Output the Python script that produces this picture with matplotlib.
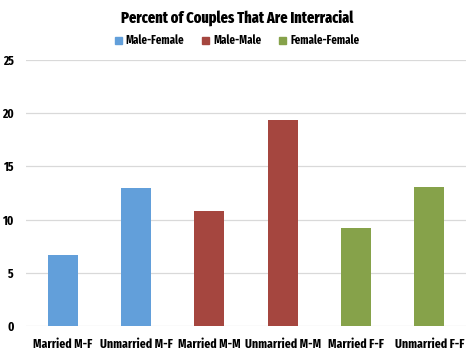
import matplotlib.pyplot as plt
import matplotlib.patches as mpatches

### data ###
categories = ['Married M-F', 'Unmarried M-F', 'Married M-M', 'Unmarried M-M', 'Married F-F', 'Unmarried F-F']
values = [6.7, 13.0, 10.8, 19.4, 9.2, 13.1]
groups = ['Male-Female', 'Male-Female', 'Male-Male', 'Male-Male', 'Female-Female', 'Female-Female']
group_names = ['Male-Female', 'Male-Male', 'Female-Female']
group_colors = {'Male-Female': '#629fda', 'Male-Male': '#a5463f', 'Female-Female': '#86a24a'}

plt.rcParams['font.family'] = ['Fira Sans Extra Condensed', 'Roboto Condensed', 'DejaVu Sans']
plt.rcParams['font.weight'] = 'bold'

fig = plt.figure(figsize=(4.74, 3.52), dpi=100)
ax = fig.add_axes([0.055, 0.074, 0.928, 0.755])

colors = [group_colors[g] for g in groups]
ax.bar(range(len(categories)), values, width=0.41, color=colors, zorder=3)

ax.set_ylim(0, 25)
ax.set_xlim(-0.5, len(categories) - 0.5)
ax.set_yticks([0, 5, 10, 15, 20, 25])
ax.set_xticks(range(len(categories)))
ax.set_xticklabels(categories, fontsize=9.2, fontweight='bold')
ax.tick_params(axis='y', labelsize=9, length=0, pad=9)
ax.tick_params(axis='x', length=0, pad=9)
ax.grid(axis='y', color='#d9d9d9', linewidth=0.9, zorder=0)
for s in ax.spines.values():
    s.set_visible(False)

fig.text(0.5, 0.95, 'Percent of Couples That Are Interracial', ha='center', va='center',
         fontsize=11.2, fontweight='heavy')

handles = [mpatches.Patch(color=group_colors[g], label=g) for g in group_names]
fig.legend(handles=handles, loc='center', bbox_to_anchor=(0.5, 0.884), ncol=3, frameon=False,
           fontsize=8.5, handlelength=0.6, handleheight=0.6, handletextpad=0.35, columnspacing=1.5)

fig.savefig('out.png', dpi=100)
